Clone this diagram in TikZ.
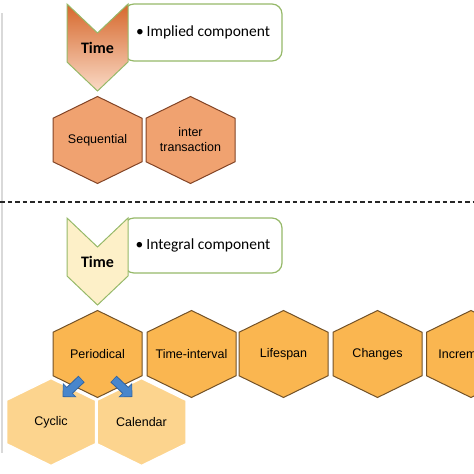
\documentclass[tikz,border=0pt]{standalone}
\usepackage{fontspec}
\setmainfont{Liberation Sans}
\newfontfamily\calibri{Carlito}
\usetikzlibrary{calc,arrows.meta}
\definecolor{hexsalmon}{RGB}{240,162,112}
\definecolor{hexbrown}{RGB}{130,68,38}
\definecolor{hexorange}{RGB}{250,182,80}
\definecolor{hexline}{RGB}{115,82,40}
\definecolor{hexlight}{RGB}{252,212,142}
\definecolor{boxgreen}{RGB}{150,185,105}
\definecolor{chevdark}{RGB}{214,104,44}
\definecolor{chevpale}{RGB}{250,218,198}
\definecolor{chevcream}{RGB}{253,240,200}
\definecolor{arrowblue}{RGB}{72,134,204}
\definecolor{arrowedge}{RGB}{50,100,160}

% hexagon: style, name, centre, text
\newcommand\hexa[4]{%
  \draw[#1] (#3) +(0,-43.5) -- +(44.5,-21.75) -- +(44.5,21.75) -- +(0,43.5)
    -- +(-44.5,21.75) -- +(-44.5,-21.75) -- cycle;
  \node[hextxt] (#2) at (#3) {#4};}
% chevron: style, name, centre, text
\newcommand\chev[4]{%
  \draw[#1] (#3) +(-30.5,-43.5) -- +(0,-14.5) -- +(30.5,-43.5) -- +(30.5,14.5)
    -- +(0,43.5) -- +(-30.5,14.5) -- cycle;
  \node[chevtxt] (#2) at (#3) {#4};}

\begin{document}
\begin{tikzpicture}[x=1pt,y=-1pt,
hexa/.style ={draw=hexline, line width=1pt, fill=hexorange},
hexb/.style ={draw=hexbrown, line width=1pt, fill=hexsalmon},
hexc/.style ={draw=white, line width=1.5pt, fill=hexlight},
hextxt/.style ={align=center, inner sep=0pt, font=\fontsize{12.5}{15}\selectfont},
chev/.style ={draw=boxgreen, line width=1pt},
chevtxt/.style ={inner sep=0pt, font=\calibri\bfseries\fontsize{16}{18}\selectfont},
note/.style ={rectangle, draw=boxgreen, line width=1.2pt, fill=white, rounded corners=10pt, inner sep=0pt, minimum width=158pt, font=\calibri\fontsize{15.5}{18}\selectfont},
blkedge/.style ={line width=9pt, arrowedge, -{Triangle[length=10pt,width=19pt]}},
blk/.style ={line width=7pt, arrowblue, shorten >=1.2pt, -{Triangle[length=8pt,width=16pt]}}]

\useasboundingbox (0,0) rectangle (474,474);
\clip (0,0) rectangle (474,474);

\draw[gray!30, line width=2pt] (2,13)--(2,453);

% implied
\draw (203,32.5) node[note, minimum height=57pt] (Imp) {\textbullet\hspace{3pt}Implied component};
\chev{chev, top color=chevdark, bottom color=chevpale}{TimeA}{97.5,47.5}{Time}
\hexa{hexb}{Seq}{97.5,140}{Sequential}
\hexa{hexb}{Inter}{190.5,140}{inter\\transaction}

\draw[line width=1.5pt, black!85, dash pattern=on 4.5pt off 3pt] (0,202)--(474,202);

% integral
\draw (203,245.5) node[note, minimum height=55pt] (Int) {\textbullet\hspace{3pt}Integral component};
\chev{chev, fill=chevcream}{TimeB}{97.5,261.5}{Time}
\hexa{hexa}{Per}{97.5,354}{Periodical}
\hexa{hexa}{Tint}{191.5,354}{Time-interval}
\hexa{hexa}{Life}{283.5,354}{Lifespan}
\hexa{hexa}{Chg}{377.5,354}{Changes}
\hexa{hexa}{Inc}{471,354}{Incremental}
\hexa{hexc}{Cyc}{51,422}{Cyclic}
\hexa{hexc}{Cal}{141.5,422}{Calendar}
\coordinate (cycin) at ($(Per)+(-35,43)$);
\coordinate (calin) at ($(Per)+(35,43)$);
\draw[blkedge] ($(Per)+(-16,25)$)--(cycin);
\draw[blk] ($(Per)+(-16.5,25.5)$)--(cycin);
\draw[blkedge] ($(Per)+(16,25)$)--(calin);
\draw[blk] ($(Per)+(16.5,25.5)$)--(calin);

\end{tikzpicture}
\end{document}
